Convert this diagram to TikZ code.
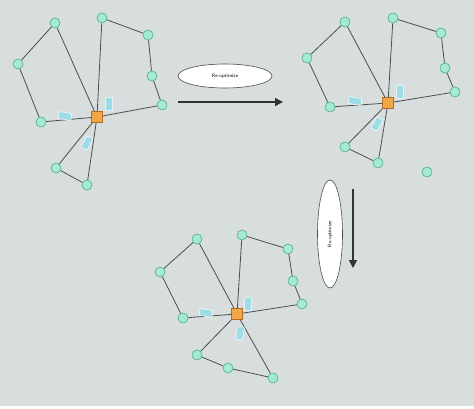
\documentclass[tikz,border=0pt]{standalone}
\usetikzlibrary{arrows.meta,shapes.geometric}
\definecolor{bg}{HTML}{D8DEDD}
\definecolor{nodefill}{HTML}{A4EBD2}
\definecolor{nodeedge}{HTML}{4FA88E}
\definecolor{depotfill}{HTML}{F2A646}
\definecolor{depotedge}{HTML}{B0702A}
\definecolor{iconfill}{HTML}{9EDCE8}
\definecolor{edgecol}{HTML}{4A4E50}
\tikzset{
  cust/.style={circle,draw=nodeedge,fill=nodefill,line width=0.6pt,minimum size=10pt,inner sep=0pt},
  depot/.style={rectangle,draw=depotedge,fill=depotfill,line width=0.5pt,minimum size=11pt,inner sep=0pt},
  route/.style={draw=edgecol,line width=0.8pt},
  veh/.style={rectangle,rounded corners=1pt,draw=white,fill=iconfill,line width=0.5pt,minimum width=13pt,minimum height=7pt,inner sep=0pt},
  bubble/.style={ellipse,draw=black!70,fill=white,line width=0.6pt,inner sep=0pt,font=\fontsize{5}{6}\selectfont\sffamily},
  bigarrow/.style={draw=black!80,line width=1.6pt,-{Triangle[length=8pt,width=8pt]}}
}
\begin{document}
\begin{tikzpicture}[x=1pt,y=-1pt]
\fill[bg] (0,0) rectangle (474,406);
\fill[white!92!bg] (0,406) rectangle (474,409);
\useasboundingbox (0,0) rectangle (474,409);

% ---------- Panel 1 ----------
\node[depot] (d1) at (97,117) {};
\node[cust] (a1) at (55,23) {};
\node[cust] (b1) at (18,64) {};
\node[cust] (c1) at (41,122) {};
\node[cust] (e1) at (102,18) {};
\node[cust] (f1) at (148,35) {};
\node[cust] (g1) at (152,76) {};
\node[cust] (h1) at (162,105) {};
\node[cust] (i1) at (56,168) {};
\node[cust] (j1) at (87,185) {};
\draw[route] (d1) -- (a1) -- (b1) -- (c1) -- (d1);
\draw[route] (d1) -- (e1) -- (f1) -- (g1) -- (h1) -- (d1);
\draw[route] (d1) -- (i1) -- (j1) -- (d1);
\node[veh,rotate=-10] (v1a) at (65,116) {};
\node[veh,rotate=90] (v1b) at (109,104) {};
\node[veh,rotate=60] (v1c) at (87,143) {};

% ---------- Panel 2 ----------
\node[depot] (d2) at (388,103) {};
\node[cust] (a2) at (345,22) {};
\node[cust] (b2) at (307,58) {};
\node[cust] (c2) at (330,107) {};
\node[cust] (e2) at (393,18) {};
\node[cust] (f2) at (441,33) {};
\node[cust] (g2) at (445,68) {};
\node[cust] (h2) at (455,92) {};
\node[cust] (i2) at (345,147) {};
\node[cust] (j2) at (378,163) {};
\node[cust] (k2) at (427,172) {};
\draw[route] (d2) -- (a2) -- (b2) -- (c2) -- (d2);
\draw[route] (d2) -- (e2) -- (f2) -- (g2) -- (h2) -- (d2);
\draw[route] (d2) -- (i2) -- (j2) -- (d2);
\node[veh,rotate=-10] (v2a) at (355,101) {};
\node[veh,rotate=90] (v2b) at (400,92) {};
\node[veh,rotate=60] (v2c) at (377,124) {};

% ---------- Panel 3 ----------
\node[depot] (d3) at (237,314) {};
\node[cust] (a3) at (197,239) {};
\node[cust] (b3) at (160,272) {};
\node[cust] (c3) at (183,318) {};
\node[cust] (e3) at (242,235) {};
\node[cust] (f3) at (288,249) {};
\node[cust] (g3) at (293,281) {};
\node[cust] (h3) at (302,304) {};
\node[cust] (i3) at (197,355) {};
\node[cust] (j3) at (228,368) {};
\node[cust] (k3) at (273,378) {};
\draw[route] (d3) -- (a3) -- (b3) -- (c3) -- (d3);
\draw[route] (d3) -- (e3) -- (f3) -- (g3) -- (h3) -- (d3);
\draw[route] (d3) -- (i3) -- (j3) -- (k3) -- (d3);
\node[veh,rotate=-10] (v3a) at (206,313) {};
\node[veh,rotate=90] (v3b) at (248,304) {};
\node[veh,rotate=80] (v3c) at (240,333) {};

% ---------- Re-optimize arrows ----------
\node[bubble,minimum width=94pt,minimum height=24pt] (r1) at (225,76) {Re-optimize};
\coordinate (p1s) at (178,102);
\coordinate (p1e) at (283,102);
\draw[bigarrow] (p1s) -- (p1e);

\node[bubble,minimum width=108pt,minimum height=25pt,rotate=90] (r2) at (330,234) {Re-optimize};
\coordinate (p2s) at (353,189);
\coordinate (p2e) at (353,268);
\draw[bigarrow] (p2s) -- (p2e);
\end{tikzpicture}
\end{document}
